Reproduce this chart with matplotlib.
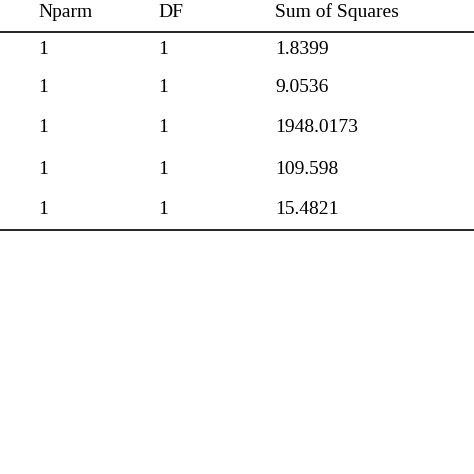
import matplotlib
matplotlib.use("Agg")
import matplotlib.pyplot as plt

headers = ["Nparm", "DF", "Sum of Squares"]
nparm = ["1", "1", "1", "1", "1"]
df = ["1", "1", "1", "1", "1"]
ss = ["1.8399", "9.0536", "1948.0173", "109.598", "15.4821"]

row_y = [49, 87, 127, 170, 209]
col_x = [38, 158, 275]

fig = plt.figure(figsize=(4.74, 4.74), dpi=100)
ax = fig.add_axes([0, 0, 1, 1])
ax.set_xlim(0, 474)
ax.set_ylim(474, 0)
ax.axis("off")
fs = 14
font = "Liberation Serif"
for x, h in zip(col_x, headers):
    ax.text(x, 12, h, fontsize=fs, family=font, va="center", ha="left")
ax.plot([0, 474], [32, 32], color="black", lw=1.2)
for i, y in enumerate(row_y):
    for x, v in zip(col_x, [nparm[i], df[i], ss[i]]):
        ax.text(x, y, v, fontsize=fs, family=font, va="center", ha="left")
ax.plot([0, 474], [230, 230], color="black", lw=1.2)
fig.savefig("out.png", dpi=100)
